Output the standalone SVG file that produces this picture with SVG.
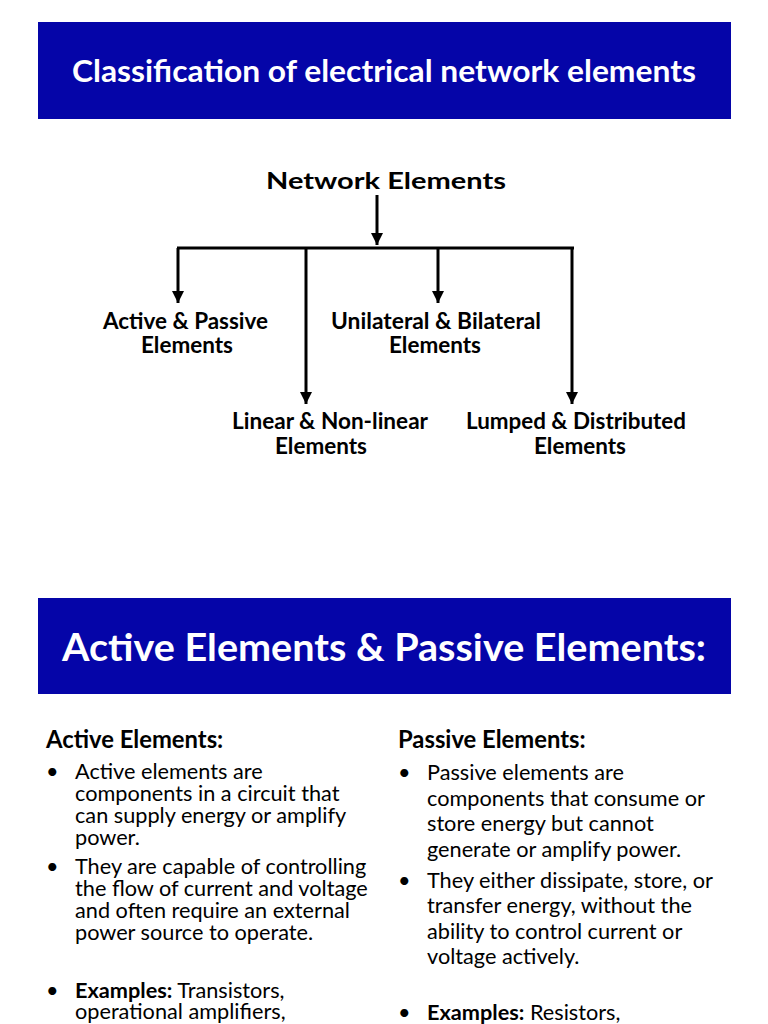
<svg xmlns="http://www.w3.org/2000/svg" width="768" height="1024" viewBox="0 0 768 1024">
<style>
.banner{fill:#0505A8}
.bt{font-family:Lato,"Open Sans",sans-serif;font-weight:bold;fill:#fff;text-anchor:middle}
.nt{font-family:Lato,"Open Sans",sans-serif;font-weight:bold;fill:#000;text-anchor:middle;font-size:22.6px}
.h{font-family:Lato,"Open Sans",sans-serif;font-weight:bold;fill:#000;font-size:23.8px}
.b{font-family:Lato,"Open Sans",sans-serif;fill:#000;font-size:21.7px}
.c{stroke:#000;stroke-width:3;fill:none}
</style>
<defs>
<marker id="ah" viewBox="0 0 10 10" refX="10" refY="5" markerWidth="4" markerHeight="4" orient="auto" markerUnits="strokeWidth">
<path d="M0,0 L10,5 L0,10 z" fill="#000"/>
</marker>
</defs>
<rect width="768" height="1024" fill="#fff"/>
<g id="banner1">
<rect class="banner" x="38" y="22" width="693" height="97"/>
<text class="bt" x="384" y="82" font-size="30" textLength="624" lengthAdjust="spacingAndGlyphs">Classification of electrical network elements</text>
</g>
<g id="root"><text class="nt" x="386" y="189" font-size="31" textLength="240" lengthAdjust="spacingAndGlyphs">Network Elements</text></g>
<g id="connectors">
<line class="c" x1="377" y1="195" x2="377" y2="245" marker-end="url(#ah)"/>
<line class="c" x1="177" y1="248" x2="574" y2="248"/>
<line class="c" x1="178" y1="248" x2="178" y2="303" marker-end="url(#ah)"/>
<line class="c" x1="306" y1="248" x2="306" y2="404" marker-end="url(#ah)"/>
<line class="c" x1="438" y1="248" x2="438" y2="303" marker-end="url(#ah)"/>
<line class="c" x1="572" y1="248" x2="572" y2="404" marker-end="url(#ah)"/>
</g>
<g id="n-active-passive"><text class="nt" x="185.5" y="329" textLength="165" lengthAdjust="spacingAndGlyphs">Active &amp; Passive</text><text class="nt" x="187" y="353" textLength="92" lengthAdjust="spacingAndGlyphs">Elements</text></g>
<g id="n-unilateral-bilateral"><text class="nt" x="436" y="329" textLength="210" lengthAdjust="spacingAndGlyphs">Unilateral &amp; Bilateral</text><text class="nt" x="435" y="353" textLength="92" lengthAdjust="spacingAndGlyphs">Elements</text></g>
<g id="n-linear-nonlinear"><text class="nt" x="330" y="429" textLength="196" lengthAdjust="spacingAndGlyphs">Linear &amp; Non-linear</text><text class="nt" x="321" y="454" textLength="92" lengthAdjust="spacingAndGlyphs">Elements</text></g>
<g id="n-lumped-distributed"><text class="nt" x="576" y="429" textLength="220" lengthAdjust="spacingAndGlyphs">Lumped &amp; Distributed</text><text class="nt" x="580" y="454" textLength="92" lengthAdjust="spacingAndGlyphs">Elements</text></g>
<g id="banner2">
<rect class="banner" x="38" y="598" width="693" height="96"/>
<text class="bt" x="384" y="661" font-size="38" textLength="644" lengthAdjust="spacingAndGlyphs">Active Elements &amp; Passive Elements:</text>
</g>
<g id="active-col">
<text class="h" x="46" y="748">Active Elements:</text>
<text class="b" x="46" y="779">•</text>
<text class="b" x="75" y="779">Active elements are</text>
<text class="b" x="75" y="801">components in a circuit that</text>
<text class="b" x="75" y="823">can supply energy or amplify</text>
<text class="b" x="75" y="845">power.</text>
<text class="b" x="46" y="874">•</text>
<text class="b" x="75" y="874">They are capable of controlling</text>
<text class="b" x="75" y="896">the flow of current and voltage</text>
<text class="b" x="75" y="918">and often require an external</text>
<text class="b" x="75" y="940">power source to operate.</text>
<text class="b" x="46" y="998">•</text>
<text class="b" x="75" y="998"><tspan font-weight="bold">Examples:</tspan> Transistors,</text>
<text class="b" x="75" y="1019">operational amplifiers,</text>
</g>
<g id="passive-col">
<text class="h" x="398" y="748">Passive Elements:</text>
<text class="b" x="398" y="780">•</text>
<text class="b" x="427" y="780">Passive elements are</text>
<text class="b" x="427" y="806">components that consume or</text>
<text class="b" x="427" y="831">store energy but cannot</text>
<text class="b" x="427" y="857">generate or amplify power.</text>
<text class="b" x="398" y="888">•</text>
<text class="b" x="427" y="888">They either dissipate, store, or</text>
<text class="b" x="427" y="913">transfer energy, without the</text>
<text class="b" x="427" y="939">ability to control current or</text>
<text class="b" x="427" y="964">voltage actively.</text>
<text class="b" x="398" y="1020">•</text>
<text class="b" x="427" y="1020"><tspan font-weight="bold">Examples:</tspan> Resistors,</text>
</g>
</svg>
